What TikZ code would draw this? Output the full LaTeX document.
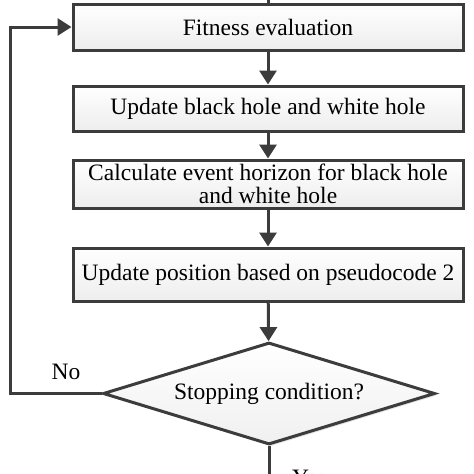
\documentclass[tikz,border=0pt]{standalone}
\usepackage{fontspec}
\setmainfont{Liberation Serif}
\usetikzlibrary{arrows.meta,shapes.geometric,shadows}

\definecolor{edgegray}{HTML}{3C3C3C}

\begin{document}
\begin{tikzpicture}[x=1pt, y=-1pt,
                stepbox/.style={draw=edgegray, line width=3pt, minimum width=390pt, top color=white, bottom color=gray!14,
                    drop shadow={shadow xshift=2pt, shadow yshift=-2pt, fill=gray!45}, align=center,
                    font=\fontsize{23.5}{23.5}\selectfont, inner sep=0pt},
                testbox/.style={draw=edgegray, line width=3pt, diamond, aspect=3.25, minimum width=332pt, minimum height=102pt,
                    top color=white, bottom color=gray!12, drop shadow={shadow xshift=2pt, shadow yshift=-2pt, fill=gray!45},
                    font=\fontsize{23.5}{24}\selectfont, inner sep=0pt},
                link/.style={draw=edgegray, line width=3pt, -{Triangle[length=14pt, width=17pt]}}]
                \useasboundingbox (0,0) rectangle (474,474);
                \node[stepbox, minimum height=46pt] (fit) at (268,27) {Fitness evaluation};
                \node[stepbox, minimum height=45pt] (upd) at (268,108.5) {Update black hole and white hole};
                \node[stepbox, minimum height=48pt] (evh) at (268,184) {Calculate event horizon for black hole\\and white hole};
                \node[stepbox, minimum height=53pt] (pos) at (268,274.5) {Update position based on pseudocode 2};
                \node[testbox] (stop) at (269,393.5) {Stopping condition?};
                \coordinate (top) at (268,-6);
                \coordinate (bot) at (269,480);
                \coordinate (lft) at (10,0);
                \draw[draw=edgegray, line width=3pt] (top) -- (fit.north);
                \draw[link] (fit) -- (upd);
                \draw[link] (upd) -- (evh);
                \draw[link] (evh) -- (pos);
                \draw[link] (pos) -- (stop);
                \draw[link] (stop.west) -- (stop.west -| lft) -- (fit.west -| lft) -- (fit.west);
                \draw[draw=edgegray, line width=3pt] (stop.south) -- (bot);
                \node[font=\fontsize{23.5}{24}\selectfont] (no) at (66,372) {No};
                \node[font=\fontsize{23.5}{24}\selectfont, anchor=north west, inner sep=0pt] (yes) at (292,470) {Yes};
            \end{tikzpicture}
\end{document}
